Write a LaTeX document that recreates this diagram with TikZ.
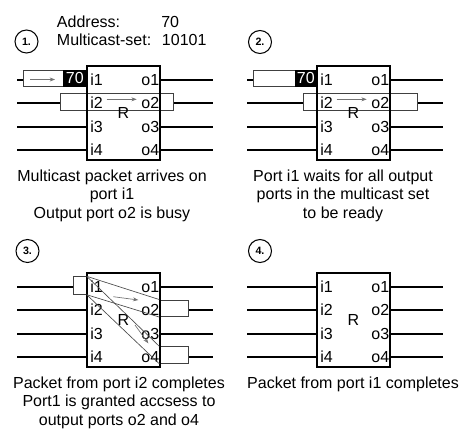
\documentclass[tikz,border=0pt]{standalone}
\usepackage{fontspec}
\setmainfont{Liberation Sans}
\usetikzlibrary{arrows.meta,backgrounds}

\newcommand\pxu{0.75pt}

\tikzset{
  router/.style={draw, line width=0.9pt, inner sep=0pt,
    minimum width=73*\pxu, minimum height=94*\pxu},
  portlabel/.style={inner sep=0pt},
  note/.style={inner sep=0pt, anchor=base west},
  stepno/.style={draw, circle, line width=0.8pt, inner sep=0pt,
    minimum size=23*\pxu, font=\bfseries\fontsize{8}{9}\selectfont},
  wire/.style={line width=0.9pt},
  packet/.style={draw=black!75, fill=white, line width=0.6pt, inner sep=0pt,
    minimum height=16.7*\pxu},
  tag/.style={fill=black, text=white, inner sep=0pt, minimum height=16.7*\pxu},
  flow/.style={draw=black!55, line width=0.5pt, -{Stealth[length=4pt,width=3pt]}},
  route/.style={draw=black!70, line width=0.5pt},
  caption/.style={align=center, anchor=north, inner sep=0pt}
}

\begin{document}
\begin{tikzpicture}[x=\pxu, y=-\pxu, font=\fontsize{12}{13.9}\selectfont]
\useasboundingbox (0,0) rectangle (474,443);

% the four routers with their ports
\foreach \n/\x/\y/\cx/\cy in {1/87/66/26.5/41.5, 2/317/66/260/42,
                              3/87/273/27.5/251, 4/317/273/260/251}
{
  \node[router] (r\n) at (\x+36.5,\y+47) {R};
  \node[stepno] (s\n) at (\cx,\cy) {\n.};
  \foreach \k/\dy in {1/14,2/37,3/61,4/84}
  {
    \coordinate (in\n-\k) at (\x-70,\y+\dy);
    \coordinate (out\n-\k) at (\x+126,\y+\dy);
    \node[portlabel, anchor=west] (i\n-\k) at (\x+3,\y+\dy) {i\k};
    \node[portlabel, anchor=east] (o\n-\k) at (\x+72.5,\y+\dy) {o\k};
    \begin{scope}[on background layer]
      \draw[wire] (in\n-\k) -- (in\n-\k -| r\n.west);
      \draw[wire] (r\n.east |- out\n-\k) -- (out\n-\k);
    \end{scope}
  }
}

% header
\node[note] (addr) at (56.7,27.7) {Address:};
\node[note] (addrval) at (161,27.7) {70};
\node[note] (mset) at (56.7,45) {Multicast-set:};
\node[note] (msetval) at (161.7,45) {10101};

% packets
\begin{scope}[on background layer]
  \node[packet, anchor=east, minimum width=63.7*\pxu] (pk1a) at (87,78.3) {};
  \node[tag, anchor=east, minimum width=23.7*\pxu] (tag1) at (pk1a.east) {70};
  \node[packet, minimum width=113.3*\pxu] (pk1b) at (116.7,101.7) {};

  \node[packet, anchor=east, minimum width=64*\pxu] (pk2a) at (317.3,78.3) {};
  \node[tag, anchor=east, minimum width=22.3*\pxu] (tag2) at (pk2a.east) {70};
  \node[packet, minimum width=114*\pxu] (pk2b) at (360.3,101.7) {};

  \node[packet, anchor=east, minimum width=13.4*\pxu, minimum height=17.6*\pxu] (pk3a) at (86.7,285.5) {};
  \node[packet, anchor=west, minimum width=28.4*\pxu] (pk3b) at (159.3,308.3) {};
  \node[packet, anchor=west, minimum width=28.4*\pxu] (pk3c) at (159.3,355) {};
\end{scope}

\draw[flow] (30,79.5) -- (55,79.5);
\draw[flow] (106.7,99.3) -- (136.7,99.3);
\draw[flow] (336.7,99.3) -- (366.7,99.3);

% multicast from i1 to o2 and o4
\draw[route] (pk3a.north east) -- (pk3b.north west);
\draw[route] (pk3a.south east) -- (pk3b.south west);
\draw[route] (pk3a.north east) -- (pk3c.north west);
\draw[route] (pk3a.south east) -- (pk3c.south west);
\draw[flow] (113.3,296.7) -- (138.3,300);
\draw[flow] (135,325) -- (148.3,343.3);

% captions
\node[caption] (c1) at (112,169.5) {Multicast packet arrives on\\port i1\\Output port o2 is busy};
\node[caption] (c2) at (343,169.5) {Port i1 waits for all output\\ports in the multicast set\\to be ready};
\node[caption] (c3) at (119,376.5) {Packet from port i2 completes\\Port1 is granted accsess to\\output ports o2 and o4};
\node[caption] (c4) at (353,376.5) {Packet from port i1 completes};
\end{tikzpicture}
\end{document}
